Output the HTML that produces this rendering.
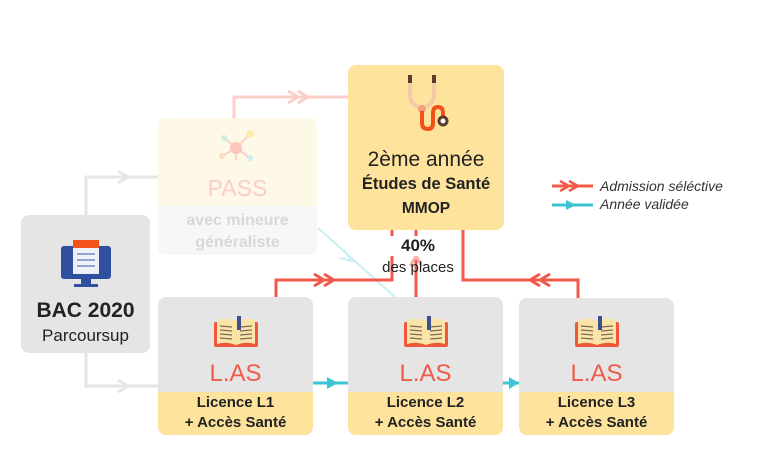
<!DOCTYPE html>
<html><head><meta charset="utf-8"><style>
body{margin:0;width:768px;height:454px;background:#fff;position:relative;overflow:hidden;font-family:"Liberation Sans",sans-serif;}
.b{position:absolute;border-radius:8px;overflow:hidden;text-align:center;}
.t{position:absolute;left:0;right:0;text-align:center;}
</style></head><body>
<svg width="768" height="454" style="position:absolute;left:0;top:0">
<g fill="none" stroke-width="3">
<path d="M86 215 V177 H158" stroke="#e6e6e6"/>
<path d="M86 353 V386 H158" stroke="#e6e6e6"/>
<path d="M118 171 L128 177 L118 183" stroke="#e6e6e6"/>
<path d="M118 380 L128 386 L118 392" stroke="#e6e6e6"/>
<path d="M234 118 V97 H348" stroke="#fbcfc8"/>
<path d="M288 91 L298 97 L288 103 M298 91 L308 97 L298 103" stroke="#fbcfc8"/>
<path d="M318 228 L395 297" stroke="#c9eef3" stroke-width="2"/>
<path d="M344 250 L352 261 L340 258" stroke="#c9eef3" stroke-width="2"/>
<path d="M392 230 V280 H276 V297" stroke="#f05a4a"/>
<path d="M314 274 L324 280 L314 286 M324 274 L334 280 L324 286" stroke="#f05a4a"/>
<path d="M416 230 V297" stroke="#f05a4a"/>
<path d="M410 266 L416 256 L422 266" stroke="#fbb5ac"/>
<path d="M463 230 V280 H578 V298" stroke="#f05a4a"/>
<path d="M540 274 L530 280 L540 286 M550 274 L540 280 L550 286" stroke="#f05a4a"/>
<path d="M313 383 H348 M503 383 H519" stroke="#3cc4d3"/>
<path d="M552 186 H593" stroke="#f05a4a"/>
<path d="M560 181 L569 186 L560 191 M569 181 L578 186 L569 191" stroke="#f05a4a" stroke-width="2.5"/>
<path d="M552 205 H593" stroke="#3cc4d3"/>
</g>
<path d="M327 377 L338 383 L327 389z M509 377 L519 383 L509 389z M566 200 L576 205 L566 210z" fill="#3cc4d3"/>
</svg>

<div class="b" style="left:21px;top:215px;width:129px;height:138px;background:#e5e5e5">
<svg style="position:absolute;left:40px;top:25px" width="50" height="50"><rect x="0" y="6" width="50" height="33" rx="3" fill="#2f4fa0"/><rect x="12" y="0" width="26" height="34" fill="#eef0fa"/><rect x="12" y="0" width="26" height="8" fill="#f2511b"/><rect x="16" y="13" width="18" height="2" fill="#9aa3d6"/><rect x="16" y="19" width="18" height="2" fill="#9aa3d6"/><rect x="16" y="25" width="18" height="2" fill="#9aa3d6"/><rect x="20" y="39" width="10" height="6" fill="#2f4fa0"/><rect x="13" y="44" width="24" height="3" fill="#2f4fa0"/></svg>
<div class="t" style="top:84px;font-size:21px;font-weight:bold;color:#222">BAC 2020</div>
<div class="t" style="top:111px;font-size:17px;color:#222">Parcoursup</div>
</div>

<div class="b" style="left:158px;top:118px;width:159px;height:137px;background:#f7f7f7">
<div style="position:absolute;left:0;top:0;width:159px;height:88px;background:#fef8e6"></div>
<svg style="position:absolute;left:58px;top:8px" width="46" height="40"><g stroke="#f9d4cc" stroke-width="2"><line x1="20" y1="22" x2="8" y2="12"/><line x1="20" y1="22" x2="34" y2="8"/><line x1="20" y1="22" x2="6" y2="30"/><line x1="20" y1="22" x2="20" y2="34"/><line x1="20" y1="22" x2="34" y2="32"/></g><circle cx="20" cy="22" r="6" fill="#fbc6bb"/><circle cx="8" cy="12" r="3" fill="#cdeee0"/><circle cx="34" cy="8" r="4" fill="#fbecb0"/><circle cx="6" cy="30" r="3" fill="#fbdcc0"/><circle cx="34" cy="32" r="3" fill="#cdeef5"/></svg>
<div class="t" style="top:57px;font-size:23px;color:#fbcdc6">PASS</div>
<div class="t" style="top:92px;font-size:16px;color:#d8d8d8;font-weight:bold;line-height:22px">avec mineure<br>généraliste</div>
</div>

<div class="b" style="left:348px;top:65px;width:156px;height:165px;background:#fde39c">
<svg style="position:absolute;left:52px;top:4px" width="52" height="64"><path d="M10 10 V26 Q10 34 18 38 L22 40" stroke="#f3c9a6" stroke-width="4" fill="none"/><path d="M34 10 V26 Q34 34 26 38 L22 40" stroke="#f3c9a6" stroke-width="4" fill="none"/><rect x="8" y="6" width="4" height="8" fill="#5a3a2a"/><rect x="32" y="6" width="4" height="8" fill="#5a3a2a"/><circle cx="22" cy="40" r="4" fill="#f6a07a"/><path d="M22 42 V54 Q22 60 28 60 Q33 60 33 54 V44 Q33 38 38 38 Q43 38 43 44 V48" stroke="#f2511b" stroke-width="4" fill="none"/><circle cx="43" cy="52" r="4" fill="#fff" stroke="#5a3a2a" stroke-width="3"/></svg>
<div class="t" style="top:83px;font-size:21px;color:#222">2ème année</div>
<div class="t" style="top:110px;font-size:16.5px;color:#222;font-weight:bold">Études de Santé</div>
<div class="t" style="top:135px;font-size:15.5px;color:#222;font-weight:bold">MMOP</div>
</div>

<div style="position:absolute;left:380px;top:236px;width:76px;text-align:center;font-size:17px;font-weight:bold;color:#222;background:#fff;line-height:20px">40%</div>
<div style="position:absolute;left:370px;top:259px;width:96px;text-align:center;font-size:15px;color:#222;line-height:18px">des places</div>

<div class="b" style="left:158px;top:297px;width:155px;height:138px;background:#e5e5e5"></div>
<div class="b" style="left:348px;top:297px;width:155px;height:138px;background:#e5e5e5"></div>
<div class="b" style="left:519px;top:298px;width:155px;height:137px;background:#e5e5e5"></div>

<div id="c"></div>
<script>
var xs=[[158,'L1',297],[348,'L2',297],[519,'L3',298]];
var h='';
xs.forEach(function(a){
h+='<div class="b" style="left:'+a[0]+'px;top:'+a[2]+'px;width:155px;height:'+(435-a[2])+'px">'+
'<svg style="position:absolute;left:56px;top:'+(316-a[2])+'px" width="44" height="33"><rect x="0" y="6" width="44" height="25" rx="2" fill="#f0573b"/><path d="M3 4 Q12 1 22 5 V29 Q12 25 3 28z" fill="#fbe4a8"/><path d="M41 4 Q32 1 22 5 V29 Q32 25 41 28z" fill="#fbe4a8"/><g stroke="#7b6a5a" stroke-width="1.2"><line x1="6" y1="10" x2="18" y2="11"/><line x1="6" y1="14" x2="18" y2="15"/><line x1="6" y1="18" x2="18" y2="19"/><line x1="6" y1="22" x2="18" y2="23"/><line x1="26" y1="11" x2="38" y2="10"/><line x1="26" y1="15" x2="38" y2="14"/><line x1="26" y1="19" x2="38" y2="18"/><line x1="26" y1="23" x2="38" y2="22"/></g><rect x="23" y="0" width="4" height="14" fill="#3d4f8c"/></svg>'+
'<div class="t" style="top:'+(360-a[2])+'px;font-size:24px;color:#f05a4a">L.AS</div>'+
'<div style="position:absolute;left:0;bottom:0;width:155px;height:42px;background:#fde39c;font-size:15px;font-weight:bold;color:#222;line-height:20px;padding-top:1px">Licence '+a[1]+'<br>+ Accès Santé</div></div>';
});
document.getElementById('c').innerHTML=h;
</script>

<div style="position:absolute;left:600px;top:178px;font-size:14px;font-style:italic;color:#333">Admission séléctive</div>
<div style="position:absolute;left:600px;top:196px;font-size:14px;font-style:italic;color:#333">Année validée</div>
</body></html>
